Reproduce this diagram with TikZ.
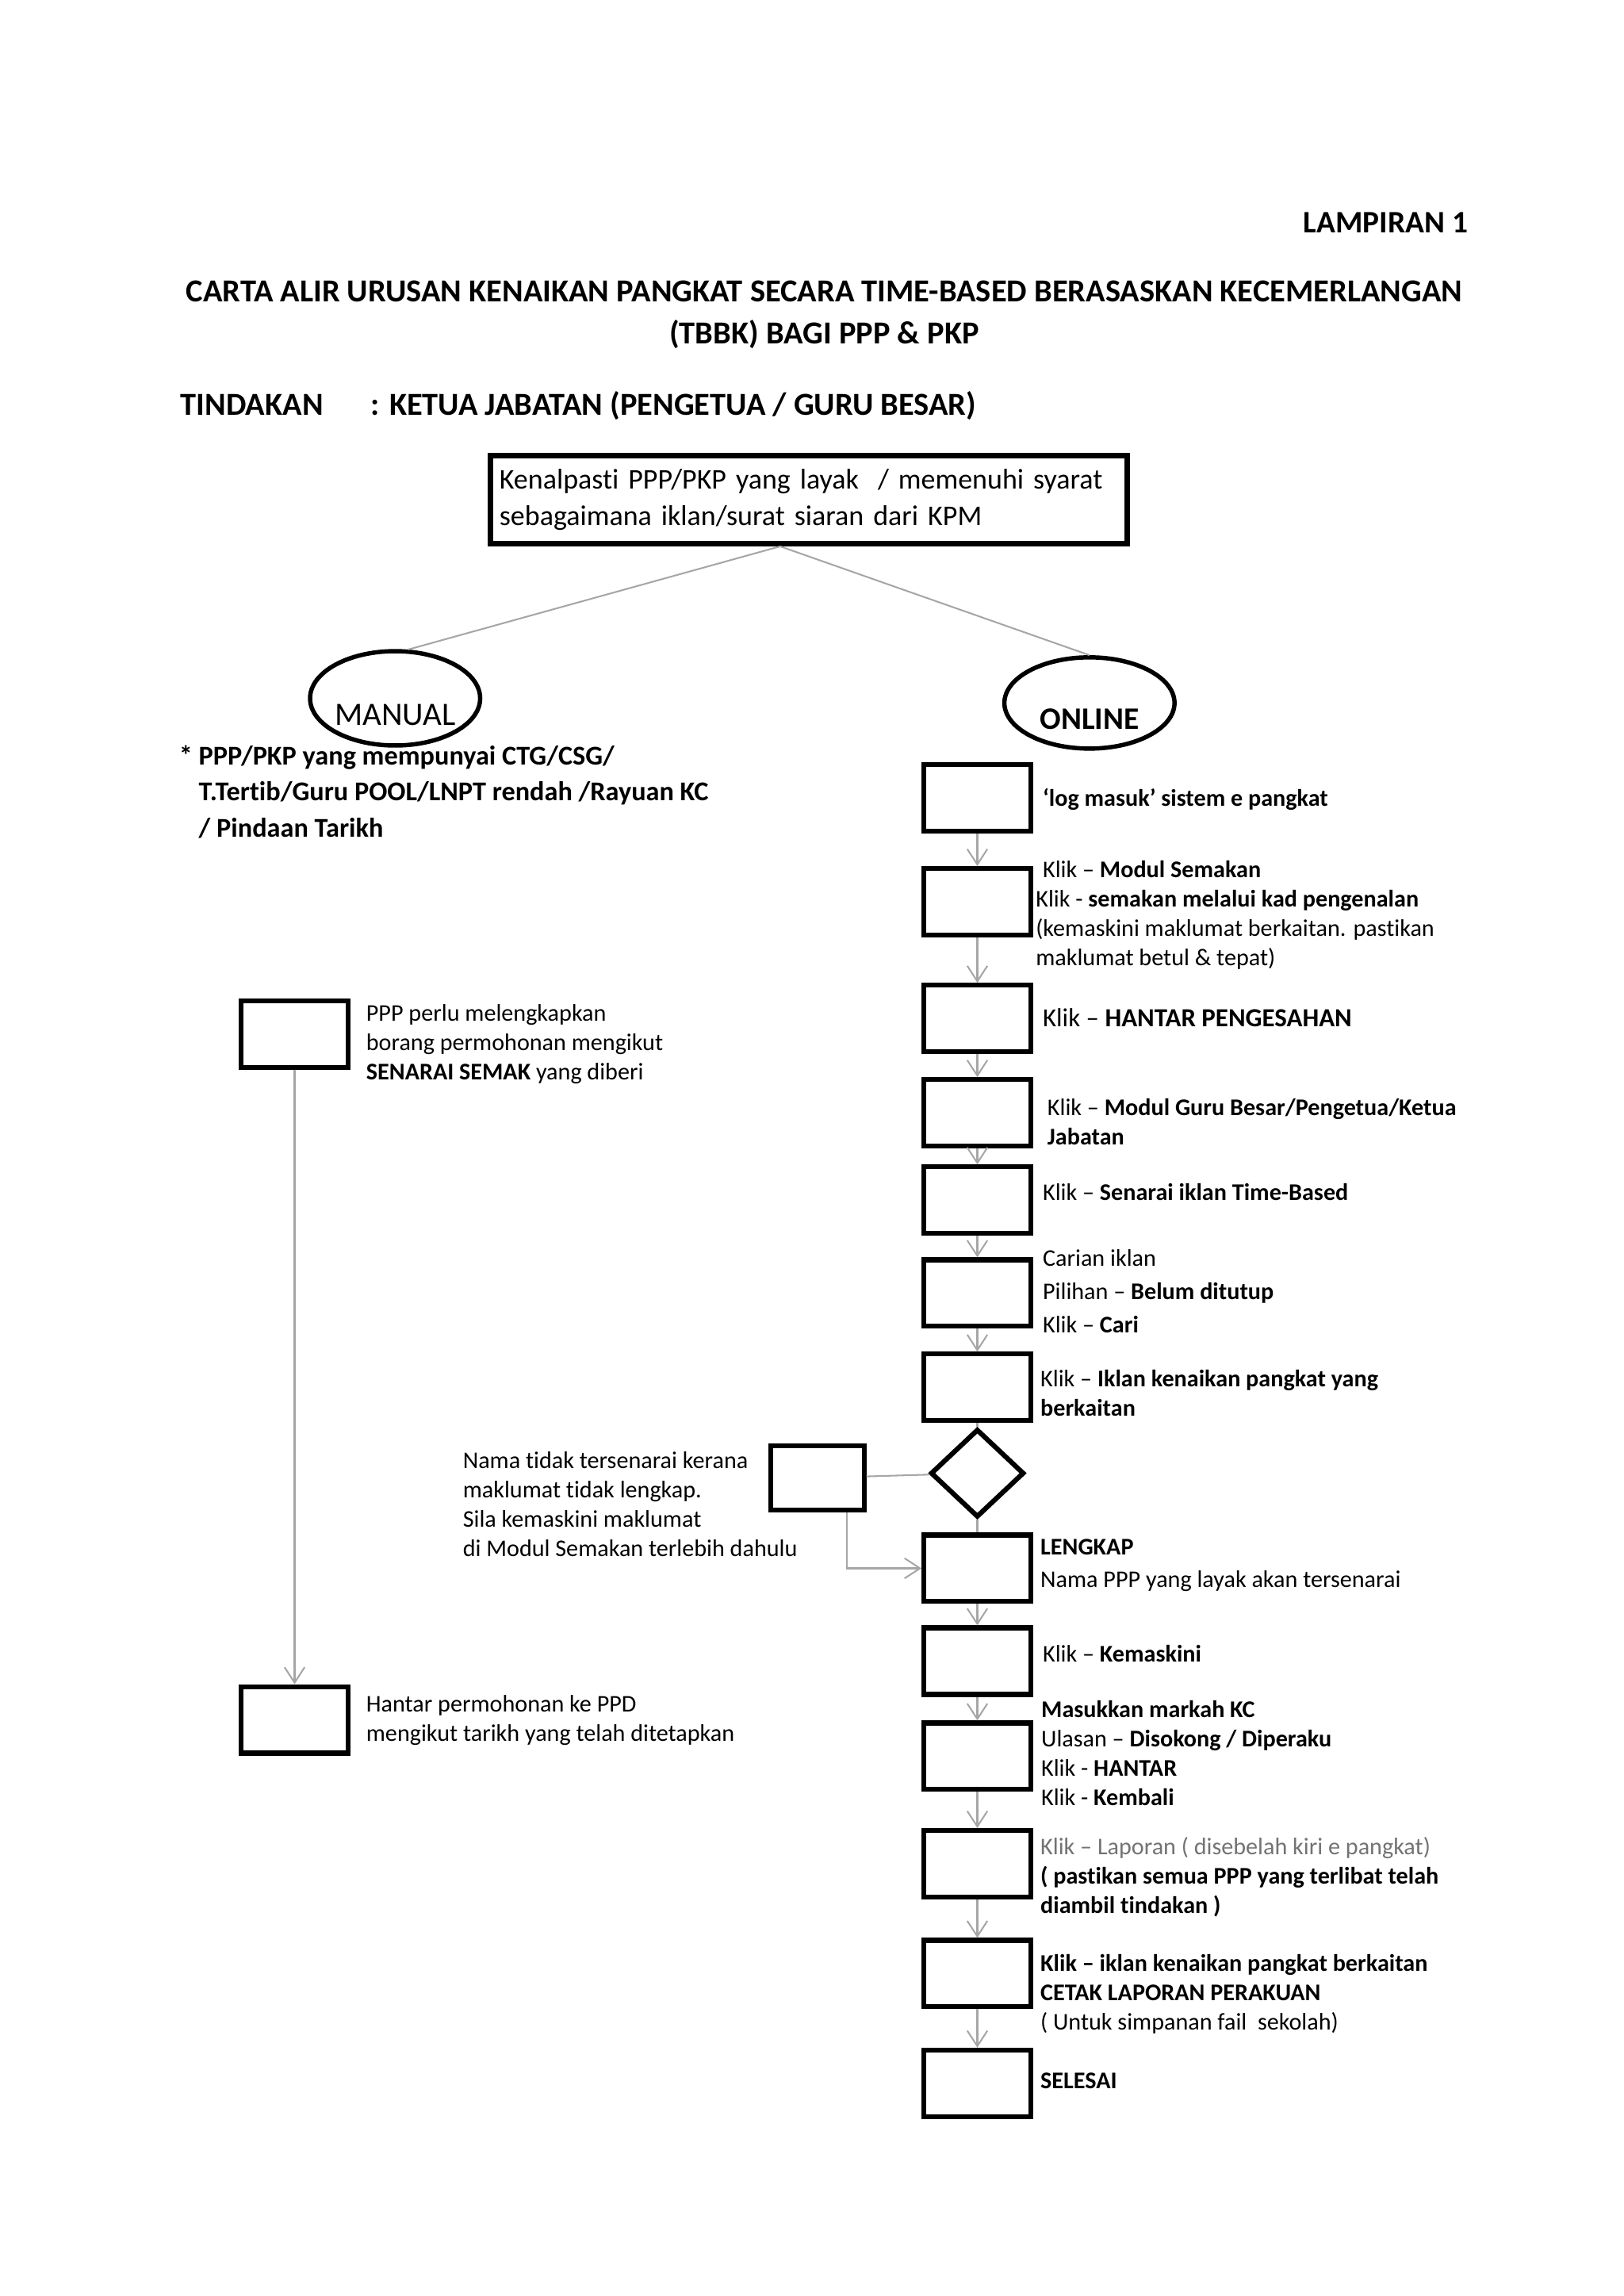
\documentclass[tikz,border=0pt]{standalone}
\usepackage{fontspec}
\setmainfont{Carlito}[Ligatures={TeX,NoCommon}]
\usetikzlibrary{shapes.geometric,arrows.meta}

\newcommand{\hdr}{\fontsize{11.8}{14}\selectfont\bfseries}
\newcommand{\txt}{\fontsize{8.8}{10.8}\selectfont}

\tikzset{
    stepbox/.style={draw, line width=1.8pt, minimum width=1.38cm, minimum height=0.86cm, inner sep=0pt},
    oval/.style={draw, ellipse, line width=1.6pt, minimum width=2.2cm, minimum height=1.22cm, inner sep=0pt},
    decision/.style={draw, diamond, line width=1.8pt, minimum width=1.21cm, minimum height=1.14cm, inner sep=0pt},
    note/.style={anchor=west, align=left, font=\txt, inner sep=0pt},
    link/.style={gray!70, line width=0.6pt},
    >={Straight Barb[length=2mm,width=2.6mm]},
}

\begin{document}
\begin{tikzpicture}
    \useasboundingbox (0,0) rectangle (21,-29.69);
    % heading
    \node[anchor=east, font=\fontsize{11.5}{14}\selectfont\bfseries, inner sep=0pt] (lampiran) at (18.99,-2.88) {LAMPIRAN 1};
    \node[font=\hdr, inner sep=0pt] (title1) at (10.66,-3.77) {CARTA ALIR URUSAN KENAIKAN PANGKAT SECARA TIME-BASED BERASASKAN KECEMERLANGAN};
    \node[font=\hdr, inner sep=0pt] (title2) at (10.66,-4.32) {(TBBK) BAGI PPP \& PKP};
    \node[anchor=west, font=\hdr, inner sep=0pt] (tindakan) at (2.33,-5.23) {TINDAKAN};
    \node[anchor=west, font=\hdr, inner sep=0pt] (ketua) at (4.79,-5.25) {: KETUA JABATAN (PENGETUA / GURU BESAR)};
    % start
    \node[draw, line width=2pt, minimum width=8.24cm, minimum height=1.14cm, text width=8cm, align=left,
        font=\fontsize{10.5}{13.4}\selectfont] (top) at (10.46,-6.46)
        {Kenalpasti PPP/PKP yang layak \ / memenuhi syarat\\ sebagaimana iklan/surat siaran dari KPM};
    \node[oval, label={[yshift=-2.1mm, font=\fontsize{12}{14}\selectfont]center:MANUAL}] (manual) at (5.11,-9.03) {};
    \node[oval, minimum height=1.18cm, label={[yshift=-2.1mm, font=\fontsize{11.5}{14}\selectfont\bfseries]center:ONLINE}] (online) at (14.09,-9.09) {};
    \draw[link] ([xshift=-3.7mm]top.south) -- (manual.75);
    \draw[link] ([xshift=-3.7mm]top.south) -- (online.north);
    % manual side
    \node[anchor=west, align=left, inner sep=0pt, font=\fontsize{10}{13.4}\selectfont\bfseries] (syarat) at (2.31,-10.24)
        {* PPP/PKP yang mempunyai CTG/CSG/\\ \phantom{* }T.Tertib/Guru POOL/LNPT rendah /Rayuan KC\\ \phantom{* }/ Pindaan Tarikh};
    \node[stepbox] (m1) at (3.81,-13.37) {};
    \node[note] (m1t) at (4.73,-13.50) {PPP perlu melengkapkan\\ borang permohonan mengikut\\ \textbf{SENARAI SEMAK} yang diberi};
    \node[stepbox] (m2) at (3.81,-22.24) {};
    \node[note] (m2t) at (4.73,-22.25) {Hantar permohonan ke PPD\\ mengikut tarikh yang telah ditetapkan};
    \draw[link, ->] (m1) -- (m2);
    % online side
    \node[stepbox] (b1) at (12.64,-10.32) {};
    \node[stepbox] (b2) at (12.64,-11.66) {};
    \node[stepbox] (b3) at (12.64,-13.17) {};
    \node[stepbox] (b4) at (12.64,-14.39) {};
    \node[stepbox] (b5) at (12.64,-15.52) {};
    \node[stepbox] (b6) at (12.64,-16.72) {};
    \node[stepbox] (b7) at (12.64,-17.94) {};
    \node[decision] (semak) at (12.64,-19.05) {};
    \node[stepbox, minimum width=1.21cm, minimum height=0.83cm] (tolak) at (10.57,-19.11) {};
    \node[stepbox] (b8) at (12.64,-20.28) {};
    \node[stepbox] (b9) at (12.64,-21.48) {};
    \node[stepbox] (b10) at (12.64,-22.71) {};
    \node[stepbox] (b11) at (12.64,-24.10) {};
    \node[stepbox] (b12) at (12.64,-25.52) {};
    \node[stepbox] (b13) at (12.64,-26.94) {};
    % texts
    \node[note] (t1) at (13.48,-10.34) {\textbf{‘log masuk’ sistem e pangkat}};
    \node[note] (t2) at (13.39,-11.83) {\hspace*{0.09cm}Klik – \textbf{Modul Semakan}\\ Klik - \textbf{semakan melalui kad pengenalan}\\ (kemaskini maklumat berkaitan. pastikan\\ maklumat betul \& tepat)};
    \node[note, font=\fontsize{9.6}{11}\selectfont] (t3) at (13.48,-13.16) {Klik – \textbf{HANTAR PENGESAHAN}};
    \node[note] (t4) at (13.54,-14.51) {Klik – \textbf{Modul Guru Besar/Pengetua/Ketua}\\ \textbf{Jabatan}};
    \node[note] (t5) at (13.48,-15.41) {Klik – \textbf{Senarai iklan Time-Based}};
    \node[note, font=\fontsize{8.8}{12.3}\selectfont] (t6) at (13.48,-16.70) {Carian iklan\\ Pilihan – \textbf{Belum ditutup}\\ Klik – \textbf{Cari}};
    \node[note] (t7) at (13.45,-18.01) {Klik – \textbf{Iklan kenaikan pangkat yang}\\ \textbf{berkaitan}};
    \node[note] (tolakt) at (5.98,-19.45) {Nama tidak tersenarai kerana\\ maklumat tidak lengkap.\\ Sila kemaskini maklumat\\ di Modul Semakan terlebih dahulu};
    \node[note, font=\fontsize{8.8}{11.8}\selectfont] (t8) at (13.45,-20.24) {\textbf{LENGKAP}\\ Nama PPP yang layak akan tersenarai};
    \node[note] (t9) at (13.48,-21.38) {Klik – \textbf{Kemaskini}};
    \node[note] (t10) at (13.46,-22.67) {\textbf{Masukkan markah KC}\\ Ulasan – \textbf{Disokong / Diperaku}\\ Klik - \textbf{HANTAR}\\ Klik - \textbf{Kembali}};
    \node[note] (t11) at (13.45,-24.27) {\textcolor{black!55}{Klik – Laporan ( disebelah kiri e pangkat)}\\ \textbf{( pastikan semua PPP yang terlibat telah}\\ \textbf{diambil tindakan )}};
    \node[note] (t12) at (13.45,-25.79) {\textbf{Klik – iklan kenaikan pangkat berkaitan}\\ \textbf{CETAK LAPORAN PERAKUAN}\\ ( Untuk simpanan fail \ sekolah)};
    \node[note] (t13) at (13.45,-26.91) {\textbf{SELESAI}};
    % arrows
    \draw[link, ->] (b1) -- (b2);
    \draw[link, ->] (b2) -- (b3);
    \draw[link, ->] (b3) -- (b4);
    \draw[link, ->] (b4) -- (b5);
    \draw[link, ->] (b5) -- (b6);
    \draw[link, ->] (b6) -- (b7);
    \draw[link] (b7) -- (semak);
    \draw[link] (semak) -- (b8);
    \draw[link] (semak) -- (tolak);
    \draw[link, ->] ([xshift=-2.5mm]tolak.south east) |- (b8.west);
    \draw[link, ->] (b8) -- (b9);
    \draw[link, ->] (b9) -- (b10);
    \draw[link, ->] (b10) -- (b11);
    \draw[link, ->] (b11) -- (b12);
    \draw[link, ->] (b12) -- (b13);
\end{tikzpicture}
\end{document}
